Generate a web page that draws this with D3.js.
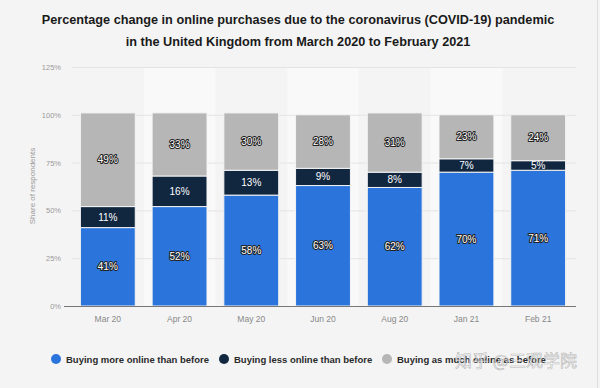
<!DOCTYPE html>
<html>
<head>
<meta charset="utf-8">
<script src="https://cdn.jsdelivr.net/npm/d3@7"></script>
<style>
  html, body { margin: 0; padding: 0; background: #f4f4f4; }
  svg { display: block; font-family: "Liberation Sans", Arial, sans-serif; }
</style>
</head>
<body>
<div id="chart"></div>
<script>
// data
var months = ["Mar 20", "Apr 20", "May 20", "Jun 20", "Aug 20", "Jan 21", "Feb 21"];
var more = [41, 52, 58, 63, 62, 70, 71];
var less = [11, 16, 13, 9, 8, 7, 5];
var same = [49, 33, 30, 28, 31, 23, 24];
var seriesNames = ["Buying more online than before", "Buying less online than before", "Buying as much online as before"];
var yTicks = [0, 25, 50, 75, 100, 125];

var colors = ["#2a74dc", "#11263f", "#b6b6b6"];

var W = 600, H = 388;
var svg = d3.select("#chart").append("svg")
    .attr("width", W)
    .attr("height", H);

svg.append("rect").attr("width", W).attr("height", H).attr("fill", "#f4f4f4");
svg.append("line")
    .attr("x1", 597.5).attr("x2", 597.5).attr("y1", 0).attr("y2", H)
    .style("stroke", "#dedede");

// title
svg.selectAll("text.title")
    .data(["Percentage change in online purchases due to the coronavirus (COVID-19) pandemic",
           "in the United Kingdom from March 2020 to February 2021"])
    .enter()
    .append("text")
    .attr("class", "title")
    .attr("x", 298)
    .attr("y", function (d, i) { return 24 + i * 22; })
    .attr("text-anchor", "middle")
    .style("font-size", "12.7px")
    .style("font-weight", "bold")
    .style("fill", "#1a1a1a")
    .text(function (d) { return d; });

var x = d3.scaleBand()
    .domain(months)
    .range([72, 574])
    .paddingInner(0.235)
    .paddingOuter(0.117);

var y = d3.scaleLinear()
    .domain([0, 125])
    .range([306, 67]);

// alternating column bands
var step = (574 - 72) / months.length;
svg.selectAll("rect.band")
    .data(months.filter(function (d, i) { return i % 2 === 1; }))
    .enter()
    .append("rect")
    .attr("class", "band")
    .attr("x", function (d) { return 72 + months.indexOf(d) * step; })
    .attr("y", 67)
    .attr("width", step)
    .attr("height", 306 - 67)
    .attr("fill", "#f9f9f9");

// gridlines
svg.selectAll("line.grid")
    .data(yTicks.slice(1))
    .enter()
    .append("line")
    .attr("class", "grid")
    .attr("x1", 72).attr("x2", 576)
    .attr("y1", function (d) { return y(d) + 0.5; })
    .attr("y2", function (d) { return y(d) + 0.5; })
    .style("stroke", "#e4e4e4")
    .style("stroke-width", 1);

// y axis tick labels
var yAxis = d3.axisLeft(y)
    .tickValues(yTicks)
    .tickSize(0)
    .tickPadding(0)
    .tickFormat(function (d) { return d + "%"; });
var gy = svg.append("g").attr("transform", "translate(61,0)").call(yAxis);
gy.select(".domain").remove();
gy.selectAll("text")
    .style("font-family", "Liberation Sans, Arial, sans-serif")
    .style("font-size", "7.5px")
    .style("fill", "#9a9a9a");

svg.append("text")
    .attr("transform", "translate(35,186) rotate(-90)")
    .attr("text-anchor", "middle")
    .style("font-size", "8px")
    .style("fill", "#9a9a9a")
    .text("Share of respondents");

// stacked bars
var table = months.map(function (m, i) {
    return { month: m, more: more[i], less: less[i], same: same[i] };
});
var stack = d3.stack().keys(["more", "less", "same"]);
var layers = stack(table);

var groups = svg.selectAll("g.layer")
    .data(layers)
    .enter()
    .append("g")
    .attr("class", "layer")
    .attr("fill", function (d, i) { return colors[i]; });

groups.selectAll("rect")
    .data(function (d) { return d; })
    .enter()
    .append("rect")
    .attr("x", function (d) { return x(d.data.month); })
    .attr("y", function (d) { return y(d[1]); })
    .attr("width", x.bandwidth())
    .attr("height", function (d) { return y(d[0]) - y(d[1]); })
    .style("stroke", "#f4f4f4")
    .style("stroke-width", 1);

// value labels
groups.each(function (layer, li) {
    d3.select(this).selectAll("text")
        .data(layer)
        .enter()
        .append("text")
        .attr("x", function (d) { return x(d.data.month) + x.bandwidth() / 2; })
        .attr("y", function (d) { return (y(d[0]) + y(d[1])) / 2 + 3.5; })
        .attr("text-anchor", "middle")
        .style("font-size", "10px")
        .style("fill", "#ffffff")
        .style("stroke", li === 1 ? "none" : "#222")
        .style("stroke-width", 2)
        .style("paint-order", "stroke")
        .style("stroke-linejoin", "round")
        .text(function (d) { return (d[1] - d[0]) + "%"; });
});

// x axis
var xAxis = d3.axisBottom(x).tickSize(0).tickPadding(10);
var gx = svg.append("g").attr("transform", "translate(0,306)").call(xAxis);
gx.select(".domain")
    .attr("d", "M64,0.5H576")
    .style("stroke", "#777")
    .style("stroke-width", 1.2);
gx.selectAll("text")
    .style("font-family", "Liberation Sans, Arial, sans-serif")
    .style("font-size", "8.5px")
    .style("fill", "#888");

// legend
var legendX = [56, 224, 387];
var legend = svg.selectAll("g.legend")
    .data(seriesNames)
    .enter()
    .append("g")
    .attr("class", "legend")
    .attr("transform", function (d, i) { return "translate(" + legendX[i] + ",359)"; });
legend.append("circle")
    .attr("r", 5)
    .attr("fill", function (d, i) { return colors[i]; });
legend.append("text")
    .attr("x", 10)
    .attr("y", 3.5)
    .style("font-size", "9.5px")
    .style("font-weight", "bold")
    .style("fill", "#2a2a2a")
    .text(function (d) { return d; });

// watermark (sits over the last legend entry, as in the source image)
svg.append("text")
    .attr("x", 455)
    .attr("y", 367)
    .style("font-family", "Noto Sans CJK SC, sans-serif")
    .style("font-size", "17px")
    .style("fill", "#ffffff")
    .style("fill-opacity", 0.6)
    .style("stroke", "#9a9a9a")
    .style("stroke-width", 0.6)
    .style("stroke-opacity", 0.7)
    .text("知乎 @三观学院");
</script>
</body>
</html>
